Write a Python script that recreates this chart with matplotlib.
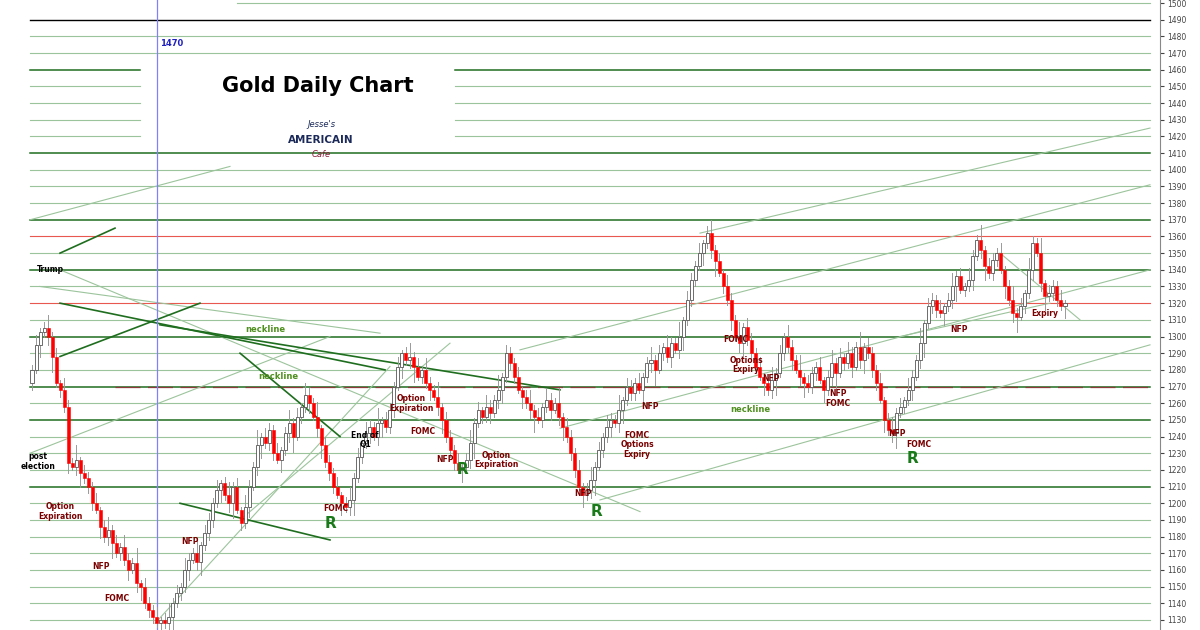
import numpy as np
import matplotlib.pyplot as plt
from matplotlib.patches import Rectangle

# daily closes left to right
closes = [1280, 1295, 1303, 1305, 1300, 1288, 1272, 1268, 1258, 1224, 1222, 1226,
          1218, 1215, 1210, 1200, 1196, 1186, 1180, 1184, 1176, 1170, 1174,
          1166, 1160, 1164, 1152, 1150, 1140, 1136, 1132,
          1128, 1130, 1128, 1132, 1140, 1146, 1150, 1160, 1166, 1170, 1165,
          1175, 1182, 1190, 1200, 1208, 1212, 1205, 1200, 1210, 1196,
          1188, 1198, 1210, 1222, 1235, 1240, 1236, 1244, 1230, 1226,
          1232, 1242, 1248, 1240, 1252, 1258, 1265, 1260, 1252, 1245, 1235, 1225,
          1218, 1210, 1205, 1200, 1198, 1202, 1215, 1228, 1236, 1242, 1246, 1240,
          1248, 1250, 1246, 1256, 1270, 1282, 1290, 1286, 1288,
          1282, 1276, 1280, 1272, 1268, 1264, 1258, 1250, 1240, 1232, 1224, 1220,
          1222, 1226, 1236, 1248, 1256, 1252, 1258, 1254, 1262, 1268, 1276, 1290,
          1284, 1276, 1268, 1264, 1260, 1256, 1252, 1250, 1258, 1262, 1256, 1260,
          1252, 1246, 1240, 1230, 1220, 1210, 1205, 1208, 1214, 1222, 1232, 1240,
          1246, 1250, 1248, 1256, 1262, 1270, 1266, 1272, 1268, 1276, 1284, 1286,
          1280, 1290, 1294, 1288, 1296, 1292, 1300, 1310, 1322, 1334, 1342, 1350,
          1356, 1362, 1352, 1345, 1338, 1330, 1322, 1310, 1300, 1296, 1306, 1298,
          1290, 1282, 1276, 1272, 1268, 1274, 1278, 1290, 1300, 1294, 1286, 1280,
          1276, 1272, 1270, 1278, 1282, 1274, 1268, 1276, 1284, 1278, 1288, 1284,
          1290, 1282, 1294, 1286, 1294, 1290, 1280, 1272, 1262, 1250, 1244, 1242,
          1254, 1258, 1262,
          1268, 1276, 1286, 1296, 1308, 1318, 1322, 1316, 1314, 1318, 1322, 1330,
          1336, 1328, 1330, 1334, 1348, 1358, 1352, 1342, 1338, 1346, 1350, 1340,
          1330, 1322, 1314, 1312, 1318, 1326, 1340, 1356, 1350, 1332, 1324, 1326,
          1330, 1322, 1318, 1320]
first_open = 1272
wick_up = [3, 6, 2, 4, 8, 3, 5, 2, 7, 4, 3, 9, 2, 5, 4]
wick_dn = [4, 2, 7, 3, 5, 9, 2, 4, 3, 6, 2, 5, 8, 3, 4]

levels = list(range(1130, 1501, 10))
dark_levels = [1300, 1370, 1250, 1270, 1340, 1460, 1410, 1210]
red_levels = [1360, 1320]
black_levels = [1490]

# trendlines in (pixel x, price)
light_diag = [((700, 1362), (1150, 1425)), ((520, 1292), (1150, 1391)),
              ((600, 1202), (1150, 1295)), ((560, 1245), (1150, 1340)),
              ((155, 1128), (390, 1282)), ((240, 1190), (450, 1296)),
              ((30, 1230), (330, 1300)), ((30, 1370), (230, 1402)),
              ((40, 1330), (380, 1302)), ((60, 1340), (640, 1195)),
              ((1000, 1350), (1080, 1310)), ((900, 1300), (1050, 1320))]
dark_diag = [((60, 1320), (385, 1280)), ((160, 1307), (560, 1268)),
             ((60, 1288), (200, 1320)), ((180, 1200), (330, 1178)),
             ((240, 1290), (340, 1240)), ((60, 1350), (115, 1365))]

notes = [("Trump", 50, 1340, "black"), ("post\nelection", 38, 1225, "black"),
         ("Option\nExpiration", 60, 1195, "#7a0000"), ("NFP", 101, 1162, "#7a0000"),
         ("FOMC", 117, 1143, "#7a0000"), ("NFP", 190, 1177, "#7a0000"),
         ("FOMC", 336, 1197, "#7a0000"), ("End of\nQ1", 365, 1238, "black"),
         ("Option\nExpiration", 411, 1260, "#7a0000"), ("FOMC", 423, 1243, "#7a0000"),
         ("NFP", 445, 1226, "#7a0000"), ("Option\nExpiration", 496, 1226, "#7a0000"),
         ("NFP", 583, 1206, "#7a0000"), ("FOMC\nOptions\nExpiry", 637, 1235, "#7a0000"),
         ("NFP", 650, 1258, "#7a0000"), ("FOMC", 736, 1298, "#7a0000"),
         ("Options\nExpiry", 746, 1283, "#7a0000"), ("NFP", 771, 1275, "#7a0000"),
         ("NFP\nFOMC", 838, 1263, "#7a0000"), ("NFP", 897, 1242, "#7a0000"),
         ("FOMC", 919, 1235, "#7a0000"), ("NFP", 959, 1304, "#7a0000"),
         ("Expiry", 1045, 1314, "#7a0000")]
r_marks = [(330, 1188), (463, 1220), (597, 1195), (913, 1227)]
necklines = [(265, 1304), (278, 1276), (750, 1256)]

fig = plt.figure(figsize=(12, 6.3), dpi=100)
ax = fig.add_axes([0, 0, 1160 / 1200, 1])
ax.set_xlim(0, 1160)
ax.set_ylim(1124, 1501.8)

for lv in levels:
    if lv in black_levels:
        c, lw = "black", 1.0
    elif lv in red_levels:
        c, lw = "#e8584f", 0.8
    elif lv in dark_levels:
        c, lw = "#1f6e1f", 1.1
    else:
        c, lw = "#9cc49c", 0.8
    if lv == 1500:
        ax.plot([237, 1150], [lv, lv], color=c, lw=lw, zorder=1)
    elif 1420 <= lv <= 1460:
        ax.plot([30, 140], [lv, lv], color=c, lw=lw, zorder=1)
        ax.plot([455, 1150], [lv, lv], color=c, lw=lw, zorder=1)
    else:
        ax.plot([30, 1150], [lv, lv], color=c, lw=lw, zorder=1)
ax.plot([115, 1150], [1270, 1270], color="#8b3a3a", lw=0.9, ls=(0, (20, 6)), zorder=1)

for (x0, y0), (x1, y1) in light_diag:
    ax.plot([x0, x1], [y0, y1], color="#9cc49c", lw=0.8, zorder=1)
for (x0, y0), (x1, y1) in dark_diag:
    ax.plot([x0, x1], [y0, y1], color="#1f6e1f", lw=1.2, zorder=1)

ax.axvline(157, color="#8080ff", lw=0.9, zorder=2)
ax.text(160, 1473, "1470", color="#2020c0", fontsize=6, fontweight="bold", va="bottom")

n = len(closes)
xs = np.linspace(32, 1065, n)
bw = (xs[1] - xs[0]) * 0.75
prev = first_open
for i, c in enumerate(closes):
    o = prev
    hi = max(o, c) + wick_up[i % len(wick_up)]
    lo = min(o, c) - wick_dn[i % len(wick_dn)]
    ax.plot([xs[i], xs[i]], [lo, hi], color="#999999", lw=0.7, zorder=3)
    if c >= o:
        ax.add_patch(Rectangle((xs[i] - bw / 2, o), bw, max(c - o, 0.5),
                               facecolor="white", edgecolor="#555555", lw=0.6, zorder=4))
    else:
        ax.add_patch(Rectangle((xs[i] - bw / 2, c), bw, o - c,
                               facecolor="#ff0000", edgecolor="#ff0000", lw=0.4, zorder=4))
    prev = c

for txt, x, y, col in notes:
    ax.text(x, y, txt, color=col, fontsize=5.5, fontweight="bold", ha="center",
            va="center", linespacing=1.1, zorder=5)
for x, y in r_marks:
    ax.text(x, y, "R", color="#1a7a1a", fontsize=11, fontweight="bold", ha="center",
            va="center", zorder=5)
for x, y in necklines:
    ax.text(x, y, "neckline", color="#4f8f1f", fontsize=6, fontweight="bold", ha="center",
            va="center", zorder=5)

ax.text(318, 1450, "Gold Daily Chart", fontsize=15, fontweight="bold", ha="center", va="center")
ax.text(321, 1427, "Jesse's", fontsize=6, style="italic", color="#1c2a5a", ha="center", va="center")
ax.text(321, 1418, "AMERICAIN", fontsize=7.5, fontweight="bold", color="#1c2a5a",
        ha="center", va="center")
ax.text(321, 1409, "Cafe", fontsize=6, style="italic", color="#8b1a3a", ha="center", va="center")

ax.yaxis.tick_right()
ax.set_yticks(levels)
ax.tick_params(axis="y", labelsize=5.5, colors="#444444", length=3, pad=2)
ax.set_xticks([])
for s in ["top", "left", "bottom"]:
    ax.spines[s].set_visible(False)
ax.spines["right"].set_color("#888888")

fig.savefig("out.png", dpi=100)
